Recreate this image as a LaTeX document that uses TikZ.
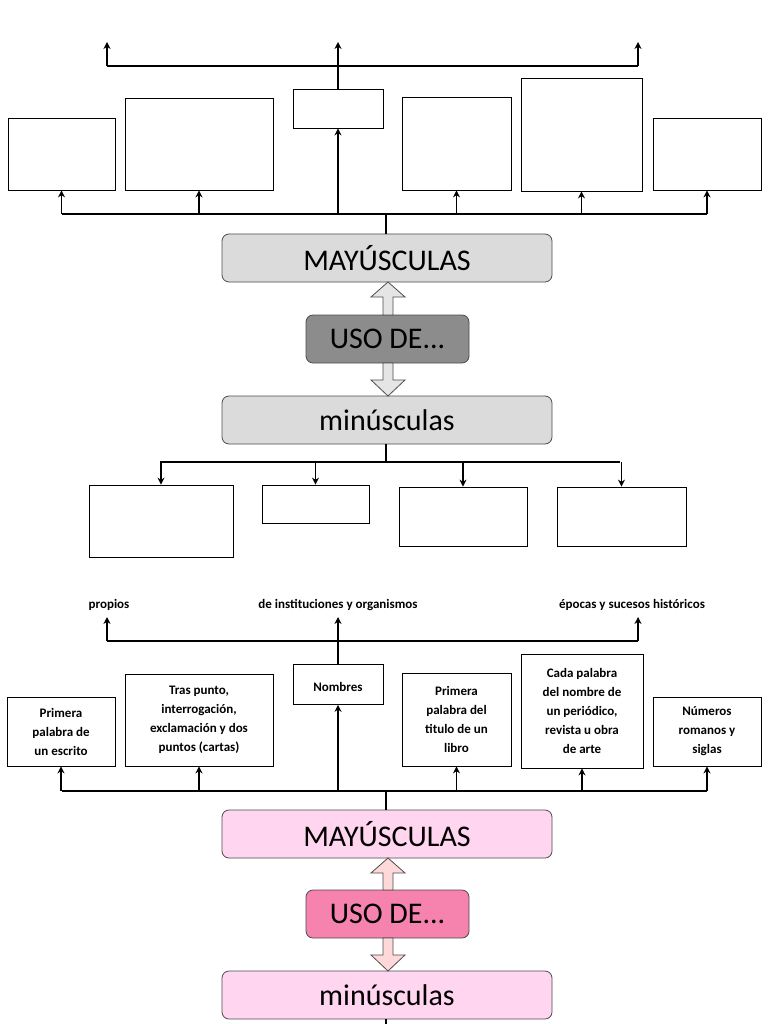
\documentclass[tikz,border=0pt]{standalone}
\usetikzlibrary{arrows.meta}
\usepackage{fontspec}
\setmainfont{Carlito}
\begin{document}
\begin{tikzpicture}[x=1pt,y=-1pt,
 box/.style={draw=black,line width=0.8pt,fill=white,inner sep=0pt,align=center,font=\bfseries\fontsize{13}{19}\selectfont},
 big/.style={draw=black!70,line width=0.8pt,rounded corners=7pt,inner sep=0pt,font=\fontsize{30}{34}\selectfont},
 ln/.style={line width=1.8pt,black},
 ar/.style={ln,-{Stealth[length=7pt,width=7pt]}},
 hol/.style={draw=black!70,line width=0.8pt},
 lbl/.style={font=\bfseries\fontsize{13}{15}\selectfont,inner sep=0pt}]
\useasboundingbox (0,0) rectangle (768,1024);
% ---------- top (empty) ----------
\node[box,minimum width=107,minimum height=72] (a1) at (61.5,154) {};
\node[box,minimum width=148,minimum height=92] (b1) at (199,144) {};
\node[box,minimum width=90,minimum height=39] (c1) at (338,108.5) {};
\node[box,minimum width=109,minimum height=93] (d1) at (456.5,143.5) {};
\node[box,minimum width=121,minimum height=113] (e1) at (581.5,134.5) {};
\node[box,minimum width=108,minimum height=72] (f1) at (707,154) {};
\node[big,fill=black!14,minimum width=330,minimum height=48] (m1) at (387,258) {MAYÚSCULAS};
\node[big,fill=black!45,minimum width=163,minimum height=48] (u1) at (387.5,339) {USO DE...};
\node[big,fill=black!14,minimum width=330,minimum height=48] (n1) at (387,420) {minúsculas};
\coordinate (bar1) at (386,214);
\draw[ln] (m1.north -| bar1) -- (bar1);
\draw[ln] (62,214) -- (707,214);
\foreach \n in {a1,b1,c1,d1,e1,f1}{\draw[ar] (\n.south |- bar1) -- (\n.south);}
\coordinate (tb1) at (338,66);
\draw[ln] (c1.north) -- (tb1);
\draw[ln] (107,66) -- (638,66);
\foreach \x in {107,338,638}{\draw[ar] (\x,66) -- (\x,42);}
\draw[hol,fill=black!10] (388,282) -- (405,297) -- (393,297) -- (393,315) -- (383,315) -- (383,297) -- (371,297) -- cycle;
\draw[hol,fill=black!10] (388,396) -- (405,380) -- (393,380) -- (393,363) -- (383,363) -- (383,380) -- (371,380) -- cycle;
\node[box,minimum width=144,minimum height=72] (g1) at (161,521) {};
\node[box,minimum width=107,minimum height=38] (h1) at (315.5,504) {};
\node[box,minimum width=128,minimum height=59] (i1) at (463,516.5) {};
\node[box,minimum width=129,minimum height=59] (j1) at (621.5,516.5) {};
\coordinate (lb1) at (386,462);
\draw[ln] (n1.south -| lb1) -- (lb1);
\draw[ln] (160,462) -- (620,462);
\foreach \n in {g1,h1,i1,j1}{\draw[ar] (\n.north |- lb1) -- (\n.north);}
% ---------- bottom (filled) ----------
\node[lbl] (p1) at (109,605) {propios};
\node[lbl] (p2) at (338,605) {de instituciones y organismos};
\node[lbl] (p3) at (632,605) {épocas y sucesos históricos};
\node[box,minimum width=108,minimum height=69] (a2) at (61,731.5) {Primera\\palabra de\\un escrito};
\node[box,minimum width=148,minimum height=92] (b2) at (199,720) {Tras punto,\\interrogación,\\exclamación y dos\\puntos (cartas)};
\node[box,minimum width=90,minimum height=40,anchor=north] (c2) at (338,664) {\rule{0pt}{14pt}Nombres};
\node[box,minimum width=109,minimum height=93] (d2) at (456.5,719.5) {Primera\\palabra del\\titulo de un\\libro};
\node[box,minimum width=122,minimum height=114] (e2) at (582,711) {Cada palabra\\del nombre de\\un periódico,\\revista u obra\\de arte};
\node[box,minimum width=108,minimum height=69] (f2) at (707,731.5) {Números\\romanos y\\siglas};
\node[big,fill=pink!70!magenta!35,minimum width=330,minimum height=48] (m2) at (387,834) {MAYÚSCULAS};
\node[big,fill=magenta!40!pink!90,minimum width=163,minimum height=48] (u2) at (387.5,914) {USO DE...};
\node[big,fill=pink!70!magenta!35,minimum width=330,minimum height=48] (n2) at (387,995) {minúsculas};
\coordinate (bar2) at (386,791);
\draw[ln] (m2.north -| bar2) -- (bar2);
\draw[ln] (62,791) -- (707,791);
\foreach \n in {a2,b2,c2,d2,e2,f2}{\draw[ar] (\n.south |- bar2) -- (\n.south);}
\draw[ln] (c2.north) -- (338,641);
\draw[ln] (107,641) -- (638,641);
\draw[ar] (107,641) -- (107,617);
\draw[ar] (338,641) -- (338,617);
\draw[ar] (638,641) -- (638,617);
\coordinate (st) at (386,1024);
\draw[ln] (n2.south -| st) -- (st);
\draw[hol,fill=pink!60] (388,858) -- (405,873) -- (393,873) -- (393,890) -- (383,890) -- (383,873) -- (371,873) -- cycle;
\draw[hol,fill=pink!60] (388,971) -- (405,955) -- (393,955) -- (393,938) -- (383,938) -- (383,955) -- (371,955) -- cycle;
\end{tikzpicture}
\end{document}
